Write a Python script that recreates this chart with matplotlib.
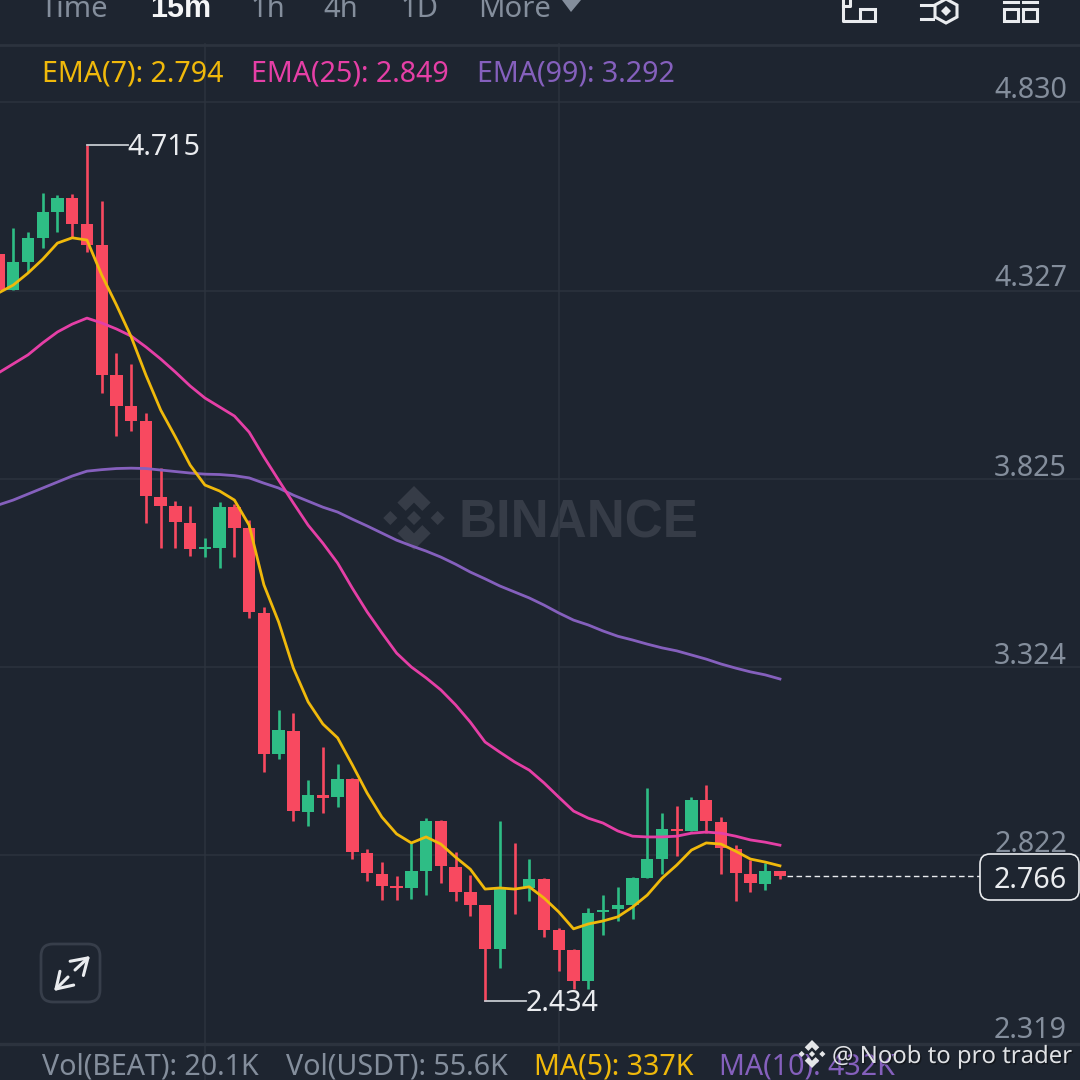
"""Binance style 15m candlestick screenshot with EMA lines."""

import matplotlib

matplotlib.use("Agg")
import matplotlib.patheffects as pe
import matplotlib.pyplot as plt
import numpy as np
from matplotlib.patches import FancyBboxPatch, Polygon, Rectangle

BG = "#1e2530"
GRID = "#2c333e"
UP = "#2ebd85"
DOWN = "#f84960"
YELLOW = "#f0b90b"
PINK = "#e53fa6"
PURPLE = "#8560bd"
GREY = "#848e9c"
WHITE = "#eaecef"
FONT = "Noto Sans"
BOLD_FONT = "Liberation Sans"

# oldest candle first, prices
opens = [
  4.425, 4.329, 4.404, 4.468, 4.537, 4.574, 4.505, 4.449, 4.102, 4.020,
  3.980, 3.777, 3.753, 3.708, 3.639, 3.641, 3.750, 3.694, 3.468, 3.092,
  3.153, 2.938, 2.983, 2.977, 3.025, 2.828, 2.772, 2.740, 2.735, 2.780,
  2.913, 2.791, 2.724, 2.689, 2.572, 2.735, 2.735, 2.759, 2.623, 2.569,
  2.487, 2.671, 2.679, 2.689, 2.761, 2.812, 2.892, 2.887, 2.969, 2.911,
  2.839, 2.772, 2.745, 2.780,
]
highs = [
  4.436, 4.494, 4.484, 4.588, 4.582, 4.585, 4.715, 4.566, 4.161, 4.132,
  4.001, 3.854, 3.766, 3.753, 3.668, 3.764, 3.758, 3.716, 3.484, 3.209,
  3.201, 3.023, 3.111, 3.065, 3.028, 2.839, 2.804, 2.767, 2.855, 2.921,
  2.915, 2.831, 2.770, 2.689, 2.913, 2.855, 2.812, 2.762, 2.628, 2.572,
  2.681, 2.716, 2.737, 2.764, 3.001, 2.935, 2.953, 2.977, 3.009, 2.924,
  2.849, 2.810, 2.801, 2.780,
]
lows = [
  4.300, 4.329, 4.377, 4.441, 4.484, 4.468, 4.430, 4.054, 3.940, 3.953,
  3.708, 3.641, 3.641, 3.620, 3.617, 3.588, 3.617, 3.455, 3.044, 3.079,
  2.913, 2.900, 2.935, 2.951, 2.812, 2.754, 2.703, 2.703, 2.706, 2.716,
  2.748, 2.700, 2.660, 2.434, 2.522, 2.665, 2.700, 2.604, 2.514, 2.466,
  2.466, 2.609, 2.647, 2.652, 2.761, 2.772, 2.820, 2.887, 2.881, 2.772,
  2.700, 2.724, 2.729, 2.759,
]
closes = [
  4.329, 4.404, 4.468, 4.537, 4.574, 4.505, 4.449, 4.102, 4.020, 3.980,
  3.780, 3.753, 3.711, 3.639, 3.643, 3.750, 3.694, 3.470, 3.092, 3.156,
  2.940, 2.983, 2.975, 3.025, 2.831, 2.775, 2.740, 2.735, 2.780, 2.913,
  2.793, 2.724, 2.689, 2.572, 2.732, 2.732, 2.759, 2.623, 2.569, 2.487,
  2.668, 2.676, 2.689, 2.761, 2.812, 2.892, 2.887, 2.969, 2.913, 2.841,
  2.775, 2.748, 2.780, 2.766,
]
ema7 = [
  4.321, 4.342, 4.374, 4.411, 4.454, 4.468, 4.462, 4.369, 4.289, 4.204,
  4.102, 4.009, 3.937, 3.862, 3.809, 3.793, 3.769, 3.702, 3.543, 3.444,
  3.321, 3.231, 3.172, 3.135, 3.063, 2.988, 2.924, 2.879, 2.855, 2.871,
  2.852, 2.817, 2.785, 2.732, 2.735, 2.732, 2.738, 2.708, 2.671, 2.626,
  2.639, 2.647, 2.658, 2.684, 2.716, 2.761, 2.796, 2.836, 2.855, 2.852,
  2.833, 2.812, 2.804, 2.794,
]
ema25 = [
  4.108, 4.132, 4.156, 4.188, 4.217, 4.238, 4.254, 4.241, 4.225, 4.206,
  4.177, 4.145, 4.110, 4.073, 4.041, 4.017, 3.993, 3.950, 3.884, 3.822,
  3.761, 3.702, 3.654, 3.601, 3.534, 3.471, 3.415, 3.361, 3.324, 3.295,
  3.263, 3.223, 3.177, 3.124, 3.097, 3.071, 3.049, 3.015, 2.977, 2.940,
  2.921, 2.908, 2.887, 2.873, 2.871, 2.871, 2.873, 2.881, 2.884, 2.881,
  2.873, 2.863, 2.857, 2.849,
]
ema99 = [
  3.756, 3.769, 3.785, 3.801, 3.817, 3.833, 3.846, 3.850, 3.853, 3.854,
  3.853, 3.849, 3.845, 3.841, 3.838, 3.837, 3.834, 3.828, 3.814, 3.801,
  3.782, 3.766, 3.750, 3.737, 3.718, 3.700, 3.681, 3.662, 3.647, 3.633,
  3.617, 3.598, 3.577, 3.559, 3.540, 3.524, 3.508, 3.489, 3.468, 3.449,
  3.436, 3.420, 3.406, 3.396, 3.385, 3.375, 3.367, 3.356, 3.345, 3.332,
  3.321, 3.311, 3.303, 3.292,
]
price_ticks = ["4.830", "4.327", "3.825", "3.324", "2.822", "2.319"]
grid_columns = [14, 38]  # candle index of the vertical grid lines
high_label = "4.715"
low_label = "2.434"
last_price = 2.766


def binance_logo(ax, cx, cy, r, color, zorder=1):
  chevron = [(0, -1), (.52, -.48), (.26, -.22), (0, -.48), (-.26, -.22), (-.52, -.48)]
  diamond = [(0, -.22), (.22, 0), (0, .22), (-.22, 0)]
  shapes = [
    [(x, y) for x, y in chevron],
    [(x, -y) for x, y in chevron],
    diamond,
    [(x - .74, y) for x, y in diamond],
    [(x + .74, y) for x, y in diamond],
  ]
  for shape in shapes:
    pts = [(cx + x * r, cy + y * r) for x, y in shape]
    ax.add_patch(Polygon(pts, closed=True, facecolor=color, edgecolor="none", zorder=zorder))


def draw_icons(ax):
  lw = 2.2
  # left icon
  ax.plot([843, 843, 857], [0, 21, 21], color=WHITE, lw=lw)
  ax.plot([843, 850, 850], [6, 6, 0], color=WHITE, lw=lw)
  ax.add_patch(Rectangle((860, 9), 15, 12, fill=False, edgecolor=WHITE, lw=lw))
  # middle icon
  ax.plot([921, 933], [5, 5], color=WHITE, lw=lw)
  ax.plot([921, 933], [19, 19], color=WHITE, lw=lw)
  hexagon = [(946, -1), (957, 5), (957, 17), (946, 23), (935, 17), (935, 5)]
  ax.add_patch(Polygon(hexagon, closed=True, fill=False, edgecolor=WHITE, lw=lw))
  ax.add_patch(Polygon([(946, 6), (951, 11), (946, 16), (941, 11)], closed=True, facecolor=WHITE))
  # right icon
  for x in (1004, 1023):
    ax.add_patch(Rectangle((x, 9), 14, 12, fill=False, edgecolor=WHITE, lw=lw))
    ax.plot([x, x + 14], [2, 2], color=WHITE, lw=lw)


def draw_expand_button(ax):
  ax.add_patch(FancyBboxPatch(
    (49, 952), 43, 42, boxstyle="round,pad=8,rounding_size=12",
    facecolor=BG, edgecolor="#373e4a", lw=2,
  ))
  style = dict(arrowstyle="->,head_length=0.55,head_width=0.35", color=WHITE, lw=2.2,
               shrinkA=0, shrinkB=0, mutation_scale=20)
  ax.annotate("", xy=(90, 956), xytext=(75, 970), arrowprops=style)
  ax.annotate("", xy=(54, 991), xytext=(68, 977), arrowprops=style)


def label(ax, x, y, text, color=GREY, size=20.6, ha="left", va="center", **kw):
  if va == "center":
    y += 3  # the font sits a little high in its box
  ax.text(x, y, text, color=color, fontsize=size, ha=ha, va=va, family=FONT, **kw)


fig = plt.figure(figsize=(10.8, 10.8), dpi=100, facecolor=BG)

# back layer, front layer and candles all share the full figure
back = fig.add_axes([0, 0, 1, 1], zorder=0)
chart = fig.add_axes([0, 0, 1, 1], zorder=1)
front = fig.add_axes([0, 0, 1, 1], zorder=2)
for layer in (back, front):
  layer.set_xlim(0, 1080)
  layer.set_ylim(1080, 0)
  layer.set_axis_off()
chart.set_axis_off()
chart.set_xlim(0.102, 73.35)
chart.set_ylim(2.2231, 5.1019)

# grid
for tick in price_ticks:
  chart.axhline(float(tick), color=GRID, lw=1.1, zorder=0)
for col in grid_columns:
  chart.plot([col, col], [2.2231, 4.985], color=GRID, lw=1.1, zorder=0)
back.plot([0, 1080], [45, 45], color=GRID, lw=2)
back.plot([0, 1080], [1044, 1044], color=GRID, lw=2.4)

# watermark
binance_logo(back, 414, 518, 32, "#363c47")
back.text(458, 523, "BINANCE", color="#363c47", fontsize=38, fontweight="bold",
          family=BOLD_FONT, ha="left", va="center")

# candles
xs = np.arange(len(opens))
opens_a = np.array(opens)
closes_a = np.array(closes)
colors = [UP if c >= o else DOWN for o, c in zip(opens, closes)]
chart.vlines(xs, lows, highs, colors=colors, lw=1.9, zorder=2)
bottoms = np.minimum(opens_a, closes_a)
heights = np.maximum(np.abs(closes_a - opens_a), 0.004)
chart.bar(xs, heights, bottom=bottoms, width=0.84, color=colors, linewidth=0, zorder=3)

# moving averages
chart.plot(xs, ema99, color=PURPLE, lw=2.0, zorder=4, solid_joinstyle="round")
chart.plot(xs, ema25, color=PINK, lw=2.0, zorder=5, solid_joinstyle="round")
chart.plot(xs, ema7, color=YELLOW, lw=2.0, zorder=6, solid_joinstyle="round")

# high / low markers
i_high = int(np.argmax(highs))
i_low = int(np.argmin(lows))
for idx, y_val, text in [(i_high, highs[i_high], high_label), (i_low, lows[i_low], low_label)]:
  chart.plot([idx, idx + 2.75], [y_val, y_val], color="#c5c9cf", lw=1.3, zorder=7)
  chart.annotate(text, xy=(idx + 2.75, y_val), xytext=(0, -2), textcoords="offset points",
                 color=WHITE, fontsize=20.6, family=FONT, va="center", ha="left", zorder=7)

# last price line and box
chart.plot([xs[-1] + 0.5, 66.6], [last_price, last_price], color=WHITE, lw=1.0, dashes=(4, 2.5), zorder=2)
front.add_patch(FancyBboxPatch(
  (986, 860), 87, 34, boxstyle="round,pad=6,rounding_size=10",
  facecolor=BG, edgecolor=WHITE, lw=1.2,
))
label(front, 1030, 877, f"{last_price:.3f}", color=WHITE, ha="center")

# price axis labels
for tick, y in zip(price_ticks, [88, 276, 465, 653, 841, 1027]):
  label(front, 1067, y, tick, ha="right")

# tabs, cropped by the top edge
for x, text in zip([41, 250, 323, 400, 478], ["Time", "1h", "4h", "1D", "More"]):
  label(front, x, 17, text, va="baseline", size=21)
front.text(150, 17, "15m", color="#f5f6f7", fontsize=22, fontweight="bold",
           family=BOLD_FONT, ha="left", va="baseline")
front.add_patch(Polygon([(562, 0), (581, 0), (571, 12)], closed=True, facecolor=GREY))
draw_icons(front)

# legends
label(front, 42, 71, "EMA(7): 2.794", color=YELLOW)
label(front, 251, 71, "EMA(25): 2.849", color=PINK)
label(front, 477, 71, "EMA(99): 3.292", color=PURPLE)
label(front, 42, 1064, "Vol(BEAT): 20.1K")
label(front, 286, 1064, "Vol(USDT): 55.6K")
label(front, 534, 1064, "MA(5): 337K", color=YELLOW)
label(front, 719, 1064, "MA(10): 432K", color=PURPLE)

draw_expand_button(front)

# channel watermark over the volume legend
binance_logo(front, 812, 1054, 14, "#e4e6e8", zorder=5)
front.text(832, 1057, "@ Noob to pro trader", color="#dfe1e4", fontsize=17.2, family=FONT,
           ha="left", va="center", zorder=5,
           path_effects=[pe.withSimplePatchShadow(offset=(1, -1), shadow_rgbFace="#101318", alpha=0.8)])

fig.savefig("out.png", dpi=100, facecolor=BG)
plt.close(fig)
